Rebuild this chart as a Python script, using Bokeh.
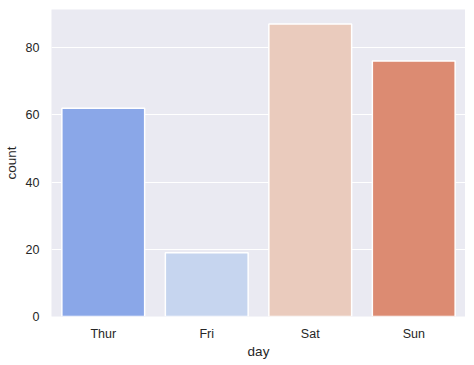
from bokeh.plotting import figure
from bokeh.models import ColumnDataSource, Range1d, FixedTicker
from bokeh.embed import file_html
from bokeh.resources import INLINE

days = ["Thur", "Fri", "Sat", "Sun"]
counts = [62, 19, 87, 76]
colors = ["#8aa7e8", "#c6d5ef", "#eacbbd", "#dc8b72"]
y_ticks = [0, 20, 40, 60, 80]

src = ColumnDataSource(dict(day=days, count=counts, color=colors))

p = figure(x_range=days, y_range=Range1d(0, max(counts) * 1.05),
           frame_width=414, frame_height=307, output_backend="svg", toolbar_location=None,
           min_border_left=44, min_border_right=0, min_border_top=9, min_border_bottom=40)
p.background_fill_color = "#eaeaf2"
p.border_fill_color = "white"
p.outline_line_color = None
p.x_range.range_padding = 0

p.vbar(x="day", top="count", width=0.8, source=src, fill_color="color",
       line_color="white", line_width=1.5)

p.xgrid.grid_line_color = None
p.ygrid.grid_line_color = "white"
p.ygrid.grid_line_width = 1.2
p.yaxis.ticker = FixedTicker(ticks=y_ticks)

for ax in (p.xaxis[0], p.yaxis[0]):
    ax.axis_line_color = None
    ax.major_tick_line_color = None
    ax.minor_tick_line_color = None
    ax.major_tick_in = 0
    ax.major_tick_out = 0
    ax.minor_tick_in = 0
    ax.minor_tick_out = 0
    ax.major_label_text_font = "Liberation Sans"
    ax.major_label_text_font_size = "12.5px"
    ax.major_label_text_color = "#262626"
    ax.axis_label_text_font = "Liberation Sans"
    ax.axis_label_text_font_size = "13.5px"
    ax.axis_label_text_font_style = "normal"
    ax.axis_label_text_color = "#262626"

p.xaxis.axis_label = "day"
p.yaxis.axis_label = "count"
p.xaxis.major_label_standoff = 10
p.xaxis.axis_label_standoff = 0
p.yaxis.major_label_standoff = 12
p.yaxis.axis_label_standoff = 4

open("out.html", "w").write(file_html(p, INLINE))
